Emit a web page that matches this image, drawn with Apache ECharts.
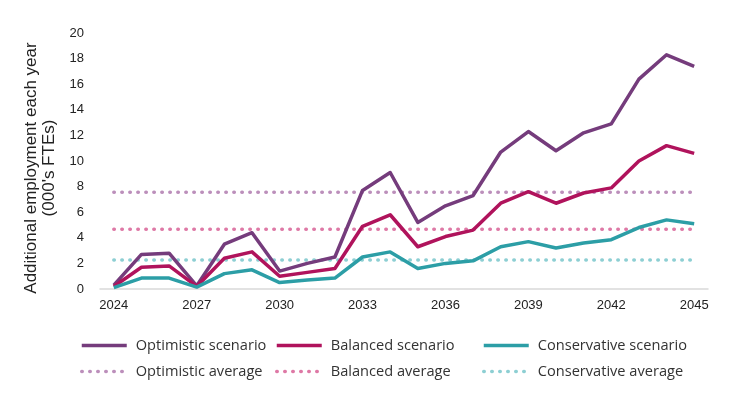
<!DOCTYPE html>
<html>
<head>
<meta charset="utf-8">
<script src="https://cdn.jsdelivr.net/npm/echarts@6/dist/echarts.min.js"></script>
<style>
  html, body { margin: 0; padding: 0; background: #fff; }
  #chart { width: 750px; height: 398px; }
</style>
</head>
<body>
<div id="chart"></div>
<script>
var years = ['2024', '2025', '2026', '2027', '2028', '2029', '2030', '2031', '2032', '2033', '2034',
             '2035', '2036', '2037', '2038', '2039', '2040', '2041', '2042', '2043', '2044', '2045'];

var optimistic = [0.3, 2.7, 2.8, 0.25, 3.5, 4.4, 1.4, 2.0, 2.5, 7.7, 9.1,
                  5.2, 6.5, 7.3, 10.7, 12.3, 10.8, 12.2, 12.9, 16.4, 18.3, 17.4];
var balanced = [0.2, 1.7, 1.8, 0.2, 2.4, 2.9, 1.0, 1.3, 1.6, 4.9, 5.8,
                3.3, 4.1, 4.6, 6.7, 7.6, 6.7, 7.5, 7.9, 10.0, 11.2, 10.6];
var conservative = [0.1, 0.85, 0.85, 0.15, 1.2, 1.5, 0.5, 0.7, 0.85, 2.5, 2.9,
                    1.6, 2.0, 2.2, 3.3, 3.7, 3.2, 3.6, 3.85, 4.8, 5.4, 5.1];

var optimisticAvg = 7.55;
var balancedAvg = 4.66;
var conservativeAvg = 2.27;

function flat(v) {
    return years.map(function () { return v; });
}

var chart = echarts.init(document.getElementById('chart'));

// itemStyle is transparent so the legend only shows the line, no circle
function solid(name, data, color) {
    return {
        name: name,
        type: 'line',
        data: data,
        symbol: 'none',
        z: 3,
        lineStyle: { color: color, width: 3.5, join: 'round' },
        itemStyle: { color: 'rgba(0,0,0,0)', borderWidth: 0 }
    };
}

function dotted(name, value, color) {
    return {
        name: name,
        type: 'line',
        data: flat(value),
        symbol: 'none',
        z: 2,
        lineStyle: { color: color, width: 3.5, type: [0.5, 7.5], cap: 'round' },
        itemStyle: { color: 'rgba(0,0,0,0)', borderWidth: 0 }
    };
}

var legendBase = {
    orient: 'vertical',
    top: 333,
    itemWidth: 45,
    itemHeight: 14,
    itemGap: 11,
    lineStyle: { width: 3.5 },
    textStyle: { fontFamily: 'Open Sans', fontSize: 14.6, color: '#333', padding: [0, 0, 0, 4] }
};

chart.setOption({
    animation: false,
    grid: { left: 100, right: 42, top: 33, bottom: 109 },
    legend: [
        Object.assign({ left: 75, data: ['Optimistic scenario', 'Optimistic average'] }, legendBase),
        Object.assign({ left: 270, data: ['Balanced scenario', 'Balanced average'] }, legendBase),
        Object.assign({ left: 477, data: ['Conservative scenario', 'Conservative average'] }, legendBase)
    ],
    xAxis: {
        type: 'category',
        data: years,
        boundaryGap: true,
        axisTick: { show: false },
        axisLine: { lineStyle: { color: '#d9d9d9', width: 1.5 } },
        axisLabel: {
            interval: 2,
            margin: 10,
            fontFamily: 'Liberation Sans',
            fontSize: 13,
            color: '#222'
        }
    },
    yAxis: {
        type: 'value',
        min: 0,
        max: 20,
        interval: 2,
        splitLine: { show: false },
        axisLine: { show: false },
        axisLabel: { margin: 16, fontFamily: 'Liberation Sans', fontSize: 13, color: '#222' },
        name: "Additional employment each year\n(000's FTEs)",
        nameLocation: 'middle',
        nameGap: 42,
        nameTextStyle: {
            fontFamily: 'Liberation Sans', fontSize: 17, lineHeight: 18, color: '#222',
            padding: [0, 14, 0, 0]
        }
    },
    series: [
        solid('Optimistic scenario', optimistic, '#753c7c'),
        solid('Balanced scenario', balanced, '#b0135c'),
        solid('Conservative scenario', conservative, '#2c9ea6'),
        dotted('Optimistic average', optimisticAvg, '#bc8fbb'),
        dotted('Balanced average', balancedAvg, '#de79a6'),
        dotted('Conservative average', conservativeAvg, '#8dcfd3')
    ]
});
</script>
</body>
</html>
